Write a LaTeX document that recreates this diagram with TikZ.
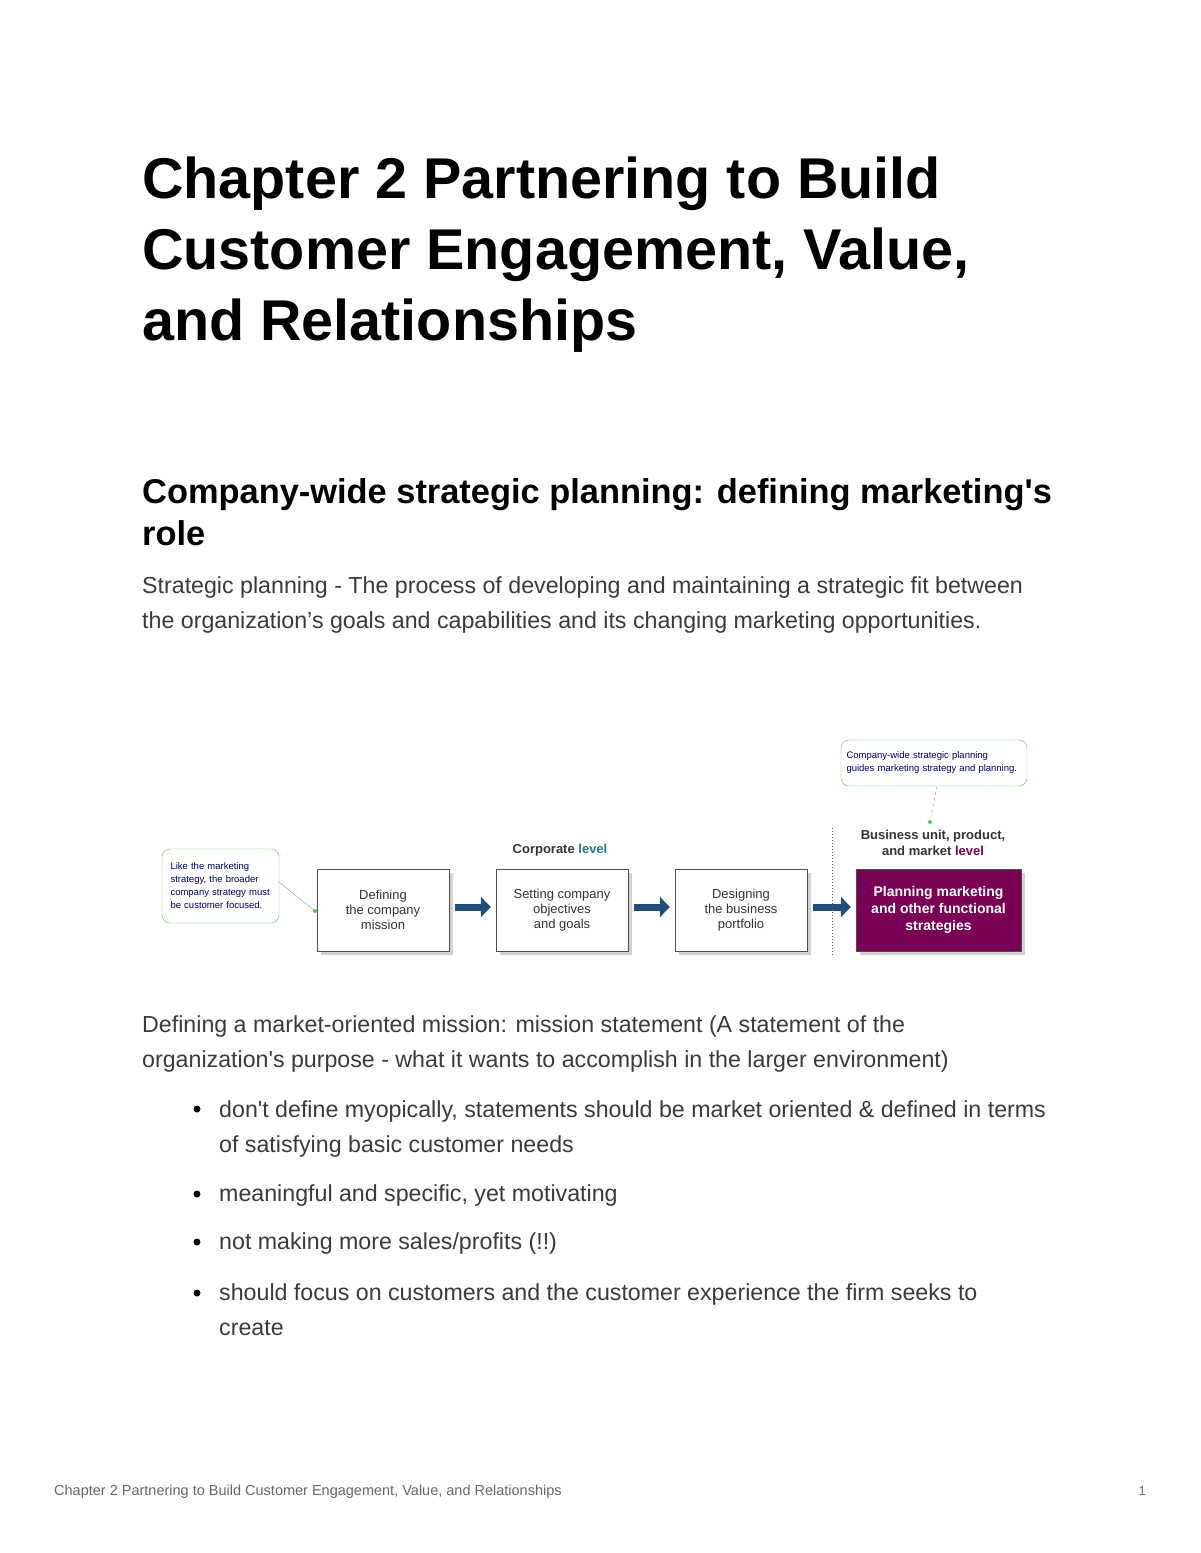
\documentclass[tikz,border=0pt]{standalone}
\usepackage{fontspec}
\setmainfont{Liberation Sans}
\usetikzlibrary{shadows,arrows.meta}
\definecolor{dtext}{HTML}{333333}
\definecolor{bodyc}{HTML}{3a3a3a}
\definecolor{arrowc}{HTML}{1F4E7C}
\definecolor{purp}{HTML}{7A0055}
\definecolor{teal1}{HTML}{1B7C80}
\definecolor{callg}{HTML}{5CC25C}
\newcommand\sq{\textquotesingle}
\tikzset{
  txt/.style={anchor=base west, inner sep=0, text=black},
  body/.style={txt, font=\fontsize{23.2}{27}\selectfont, text=bodyc},
  stepbox/.style={draw=black!70, fill=white, minimum width=132pt, minimum height=82pt, align=center, font=\fontsize{13}{15}\selectfont, text=dtext, drop shadow={shadow xshift=4pt, shadow yshift=-4pt, opacity=0.35}},
  flowarrow/.style={draw=arrowc, line width=7pt, -{Triangle[length=10pt,width=20pt]}},
  callout/.style={draw=callg, rounded corners=8pt, fill=white, align=left, font=\fontsize{9.5}{13}\selectfont, text=black!60!blue, execute at begin node={\hyphenpenalty=10000 }},
}
\begin{document}
\begin{tikzpicture}[x=1pt,y=-1pt]
\useasboundingbox (0,0) rectangle (1200,1553);
\node[txt, font=\bfseries\fontsize{57.5}{71}\selectfont] (t1) at (142,198) {Chapter 2 Partnering to Build};
\node[txt, font=\bfseries\fontsize{57.5}{71}\selectfont] (t2) at (142,269) {Customer Engagement, Value,};
\node[txt, font=\bfseries\fontsize{57.5}{71}\selectfont] (t3) at (142,340) {and Relationships};
\node[txt, font=\bfseries\fontsize{34.4}{42}\selectfont] (h1) at (142,503) {Company-wide strategic planning: defining marketing\sq s};
\node[txt, font=\bfseries\fontsize{34.4}{42}\selectfont] (h2) at (142,545) {role};
\node[body] (p1) at (142,593) {Strategic planning - The process of developing and maintaining a strategic fit between};
\node[body] (p2) at (142,628) {the organization’s goals and capabilities and its changing marketing opportunities.};

% diagram
\node[stepbox] (b1) at (383,910) {Defining\\the company\\mission};
\node[stepbox] (b2) at (562,910) {Setting company\\objectives\\and goals};
\node[stepbox] (b3) at (741,910) {Designing\\the business\\portfolio};
\node[stepbox, fill=purp, draw=black!70, minimum width=165pt, text=white, font=\bfseries\fontsize{14}{17}\selectfont] (b4) at (938.5,910) {Planning marketing\\and other functional\\strategies};
\draw[flowarrow] ([xshift=6pt,yshift=3pt]b1.east) -- ([xshift=-5pt,yshift=3pt]b2.west);
\draw[flowarrow] ([xshift=6pt,yshift=3pt]b2.east) -- ([xshift=-5pt,yshift=3pt]b3.west);
\draw[flowarrow] ([xshift=6pt,yshift=3pt]b3.east) -- ([xshift=-5pt,yshift=3pt]b4.west);
\node[font=\bfseries\fontsize{13}{15}\selectfont, text=dtext] (corp) at (560,850) {Corporate \textcolor{teal1}{level}};
\node[font=\bfseries\fontsize{13}{16}\selectfont, text=dtext, align=center] (bu) at (933,843) {Business unit, product,\\and market \textcolor{purp}{level}};
\coordinate (d1) at (832,828);
\coordinate (d2) at (832,955);
\draw[black!60, dotted, line width=1pt] (d1) -- (d2);
\node[callout, minimum width=117pt, minimum height=74pt, text width=100pt] (c1) at (220.5,886) {Like the marketing strategy, the broader company strategy must be customer focused.};
\coordinate (c1e) at (279,882);
\coordinate (c1d) at (315,911);
\draw[callg] (c1e) -- (c1d);
\fill[callg] (c1d) circle (2pt);
\node[callout, minimum width=186pt, minimum height=46pt, text width=175pt] (c2) at (934,763) {Company-wide strategic planning\\guides marketing strategy and planning.};
\coordinate (c2s) at (937,786);
\coordinate (c2d) at (930,822);
\draw[callg, dashed] (c2s) -- (c2d);
\fill[callg] (c2d) circle (2pt);

\node[body] (q1) at (142,1032) {Defining a market-oriented mission: mission statement (A statement of the};
\node[body] (q2) at (142,1067) {organization\sq s purpose - what it wants to accomplish in the larger environment)};
\foreach \y/\t [count=\i] in {1117/{don\sq t define myopically, statements should be market oriented \& defined in terms},1152/{of satisfying basic customer needs},1201/{meaningful and specific, yet motivating},1249/{not making more sales/profits (!!)},1300/{should focus on customers and the customer experience the firm seeks to},1335/{create}}
  \node[body] (l\i) at (219,\y) {\t};
\foreach \y [count=\i] in {1109,1194,1242,1293}
  \fill[black] (197,\y) circle (3.5pt) coordinate (bul\i);
\node[txt, font=\fontsize{14.5}{17}\selectfont, text=black!60] (f1) at (54,1495) {Chapter 2 Partnering to Build Customer Engagement, Value, and Relationships};
\node[anchor=base east, inner sep=0, font=\fontsize{13}{15}\selectfont, text=black!60] (f2) at (1146,1495) {1};
\end{tikzpicture}
\end{document}
